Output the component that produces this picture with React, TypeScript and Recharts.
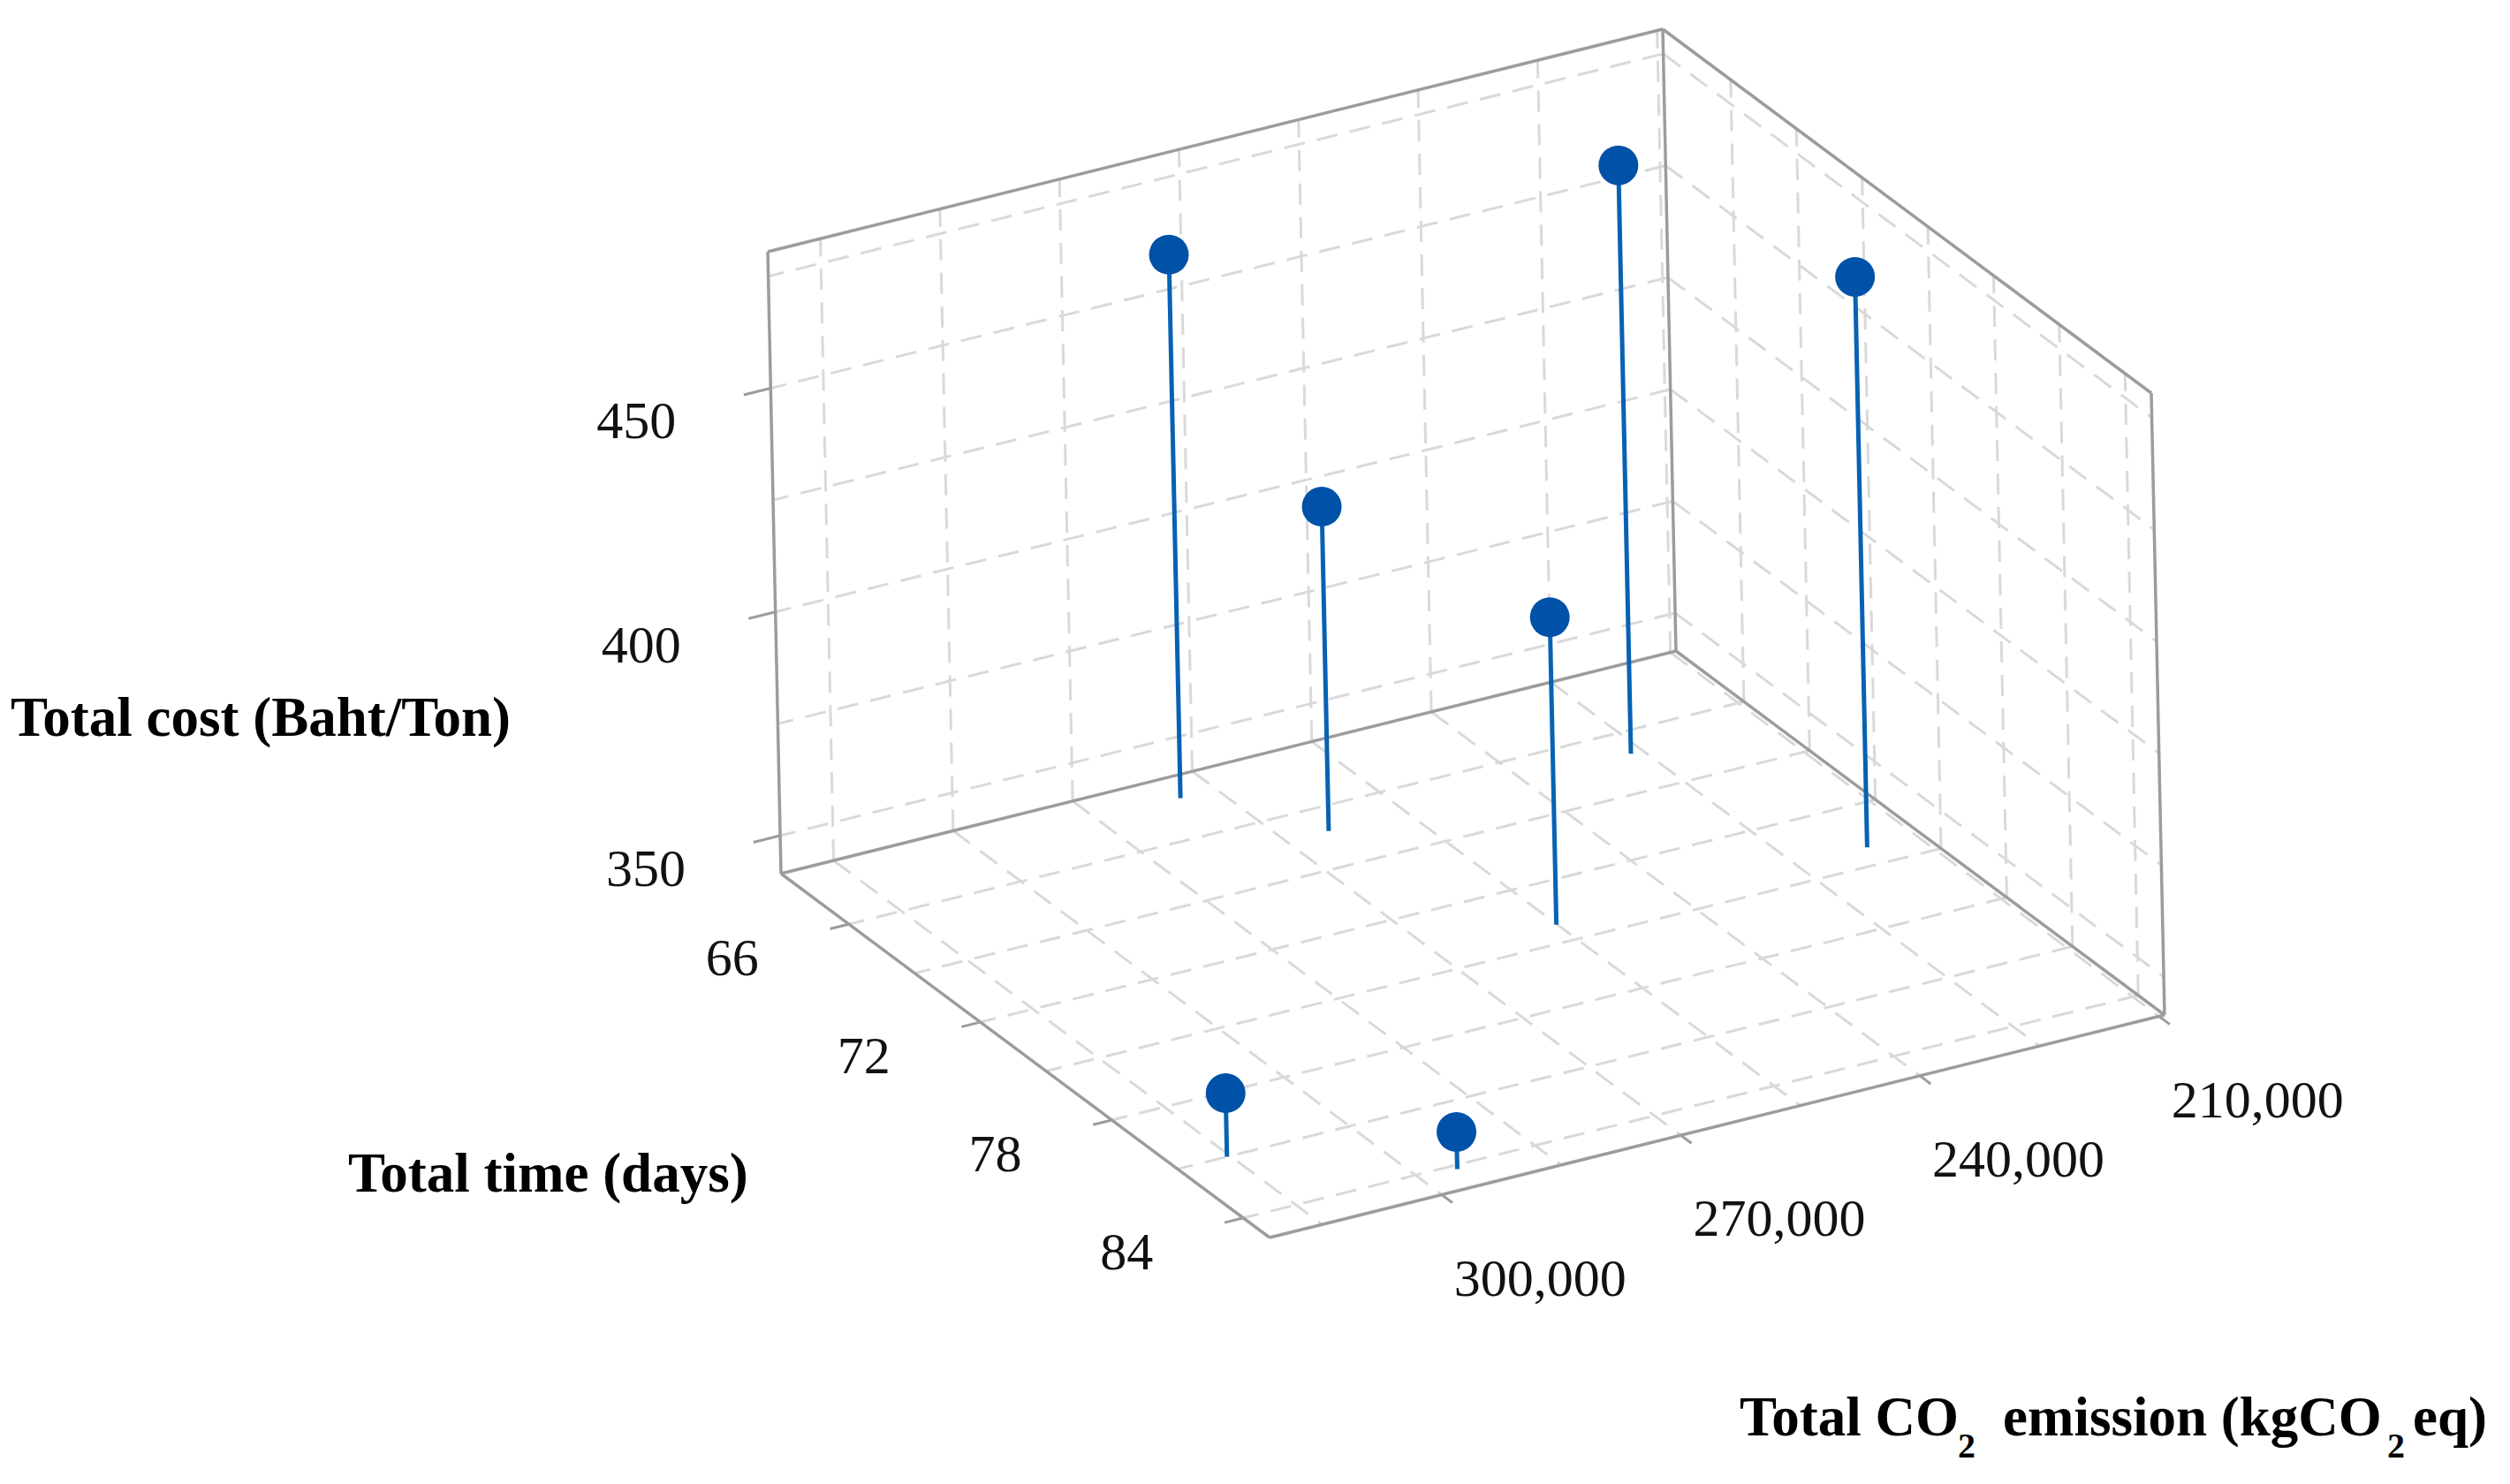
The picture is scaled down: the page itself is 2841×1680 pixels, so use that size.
import React from "react";
import { ScatterChart, Scatter, XAxis, YAxis } from "recharts";

const W = 2841;
const H = 1680;

// seven solutions
const co2Values = [274500, 264700, 226500, 216100, 255100, 315400, 295300];
const dayValues = [64.0, 67.2, 67.1, 74.1, 74.1, 81.0, 84.2];
const costValues = [463.0, 414.0, 473.0, 469.0, 410.2, 355.7, 349.8];

const co2Ticks = [210000, 240000, 270000, 300000];
const dayTicks = [66, 72, 78, 84];
const costTicks = [350, 400, 450];

const co2Grid = [210000, 225000, 240000, 255000, 270000, 285000, 300000, 315000];
const dayGrid = [66, 69, 72, 75, 78, 81, 84];
const costGrid = [350, 375, 400, 425, 450, 475];

const co2Domain = [209300, 321600];
const dayDomain = [62.9, 85.2];
const costDomain = [341.5, 480.5];

// oblique projection of the box onto the page (px); origin = (co2 min, day min, cost min)
const ORIGIN = [1897, 737];
const V_CO2 = [-1013, 252];
const V_DAY = [553, 412];
const V_COST = [-15, -704];

type Pt = { x: number; y: number };

function project(c: number, d: number, z: number): Pt {
  const fc = (c - co2Domain[0]) / (co2Domain[1] - co2Domain[0]);
  const fd = (d - dayDomain[0]) / (dayDomain[1] - dayDomain[0]);
  const fz = (z - costDomain[0]) / (costDomain[1] - costDomain[0]);
  return {
    x: ORIGIN[0] + fc * V_CO2[0] + fd * V_DAY[0] + fz * V_COST[0],
    y: ORIGIN[1] + fc * V_CO2[1] + fd * V_DAY[1] + fz * V_COST[1],
  };
}

const [cMin, cMax] = co2Domain;
const [dMin, dMax] = dayDomain;
const [zMin, zMax] = costDomain;

// dashed grid on the two back walls and the floor
const gridSegments: Pt[][] = [
  ...co2Grid.map((c) => [project(c, dMin, zMin), project(c, dMin, zMax)]),
  ...costGrid.map((z) => [project(cMin, dMin, z), project(cMax, dMin, z)]),
  ...dayGrid.map((d) => [project(cMin, d, zMin), project(cMin, d, zMax)]),
  ...costGrid.map((z) => [project(cMin, dMin, z), project(cMin, dMax, z)]),
  ...co2Grid.map((c) => [project(c, dMin, zMin), project(c, dMax, zMin)]),
  ...dayGrid.map((d) => [project(cMin, d, zMin), project(cMax, d, zMin)]),
];

const edgeSegments: Pt[][] = [
  [project(cMax, dMin, zMax), project(cMin, dMin, zMax)],
  [project(cMax, dMin, zMin), project(cMax, dMin, zMax)],
  [project(cMax, dMin, zMin), project(cMin, dMin, zMin)],
  [project(cMin, dMin, zMin), project(cMin, dMin, zMax)],
  [project(cMin, dMin, zMax), project(cMin, dMax, zMax)],
  [project(cMin, dMax, zMin), project(cMin, dMax, zMax)],
  [project(cMin, dMin, zMin), project(cMin, dMax, zMin)],
  [project(cMax, dMin, zMin), project(cMax, dMax, zMin)],
  [project(cMax, dMax, zMin), project(cMin, dMax, zMin)],
];

const cSpan = cMax - cMin;
const dSpan = dMax - dMin;

const tickSegments: Pt[][] = [
  ...costTicks.map((z) => [project(cMax, dMin, z), project(cMax + 0.03 * cSpan, dMin, z)]),
  ...dayTicks.map((d) => [project(cMax, d, zMin), project(cMax + 0.021 * cSpan, d, zMin)]),
  ...co2Ticks.map((c) => [project(c, dMax, zMin), project(c, dMax + 0.022 * dSpan, zMin)]),
];

const stemSegments: Pt[][] = co2Values.map((c, i) => [
  project(c, dayValues[i], costValues[i]),
  project(c, dayValues[i], zMin),
]);

const markers = co2Values.map((c, i) => project(c, dayValues[i], costValues[i]));

type Lbl = Pt & { text: string; dx: number; dy: number; anchor: string };

const tickLabels: Lbl[] = [
  ...costTicks.map((z) => ({ ...project(cMax, dMin, z), text: String(z), dx: -107, dy: 57, anchor: "end" })),
  ...dayTicks.map((d) => ({ ...project(cMax, d, zMin), text: String(d), dx: -102, dy: 58, anchor: "end" })),
  ...co2Ticks.map((c) => ({
    ...project(c, dMax, zMin),
    text: c.toLocaleString("en-US"),
    dx: 14,
    dy: 114,
    anchor: "start",
  })),
];

const FONT = "'Liberation Serif', 'DejaVu Serif', serif";
const noDot = () => <g />;

export default function App() {
  return (
    <div style={{ position: "absolute", left: 0, top: 0, width: W, height: H, background: "#fff" }}>
      <ScatterChart width={W} height={H} margin={{ top: 0, right: 0, bottom: 0, left: 0 }}>
        <XAxis type="number" dataKey="x" domain={[0, W]} allowDataOverflow hide />
        <YAxis type="number" dataKey="y" domain={[0, H]} allowDataOverflow reversed hide />

        {gridSegments.map((seg, i) => (
          <Scatter
            key={`g-${i}`}
            data={seg}
            line={{ stroke: "#d9d9d9", strokeWidth: 3, strokeDasharray: "24 14" }}
            shape={noDot}
            isAnimationActive={false}
          />
        ))}

        {edgeSegments.map((seg, i) => (
          <Scatter
            key={`e-${i}`}
            data={seg}
            line={{ stroke: "#9c9c9c", strokeWidth: 3.5 }}
            shape={noDot}
            isAnimationActive={false}
          />
        ))}

        {tickSegments.map((seg, i) => (
          <Scatter
            key={`t-${i}`}
            data={seg}
            line={{ stroke: "#9c9c9c", strokeWidth: 3 }}
            shape={noDot}
            isAnimationActive={false}
          />
        ))}

        <Scatter
          data={tickLabels}
          isAnimationActive={false}
          shape={(p: { cx?: number; cy?: number; payload?: Lbl }) => {
            const l = p.payload as Lbl;
            return (
              <text
                x={(p.cx ?? 0) + l.dx}
                y={(p.cy ?? 0) + l.dy}
                textAnchor={l.anchor as "start" | "end"}
                fontFamily={FONT}
                fontSize={60}
                fill="#111"
              >
                {l.text}
              </text>
            );
          }}
        />

        {stemSegments.map((seg, i) => (
          <Scatter
            key={`s-${i}`}
            data={seg}
            line={{ stroke: "#0762b3", strokeWidth: 5 }}
            shape={noDot}
            isAnimationActive={false}
          />
        ))}

        <Scatter
          data={markers}
          isAnimationActive={false}
          shape={(p: { cx?: number; cy?: number }) => (
            <circle cx={p.cx} cy={p.cy} r={22.5} fill="#0051a8" />
          )}
        />
      </ScatterChart>

      <svg
        width={W}
        height={H}
        style={{ position: "absolute", left: 0, top: 0, pointerEvents: "none" }}
        fontFamily={FONT}
        fontWeight="bold"
        fontSize={63}
        fill="#000"
      >
        <text x={12} y={833}>Total cost (Baht/Ton)</text>
        <text x={394} y={1349}>Total time (days)</text>
        <text x={1969} y={1625}>Total CO</text>
        <text x={2216} y={1650} fontSize={40}>2</text>
        <text x={2267} y={1625}>emission (kgCO</text>
        <text x={2702} y={1650} fontSize={40}>2</text>
        <text x={2731} y={1625}>eq)</text>
      </svg>
    </div>
  );
}
